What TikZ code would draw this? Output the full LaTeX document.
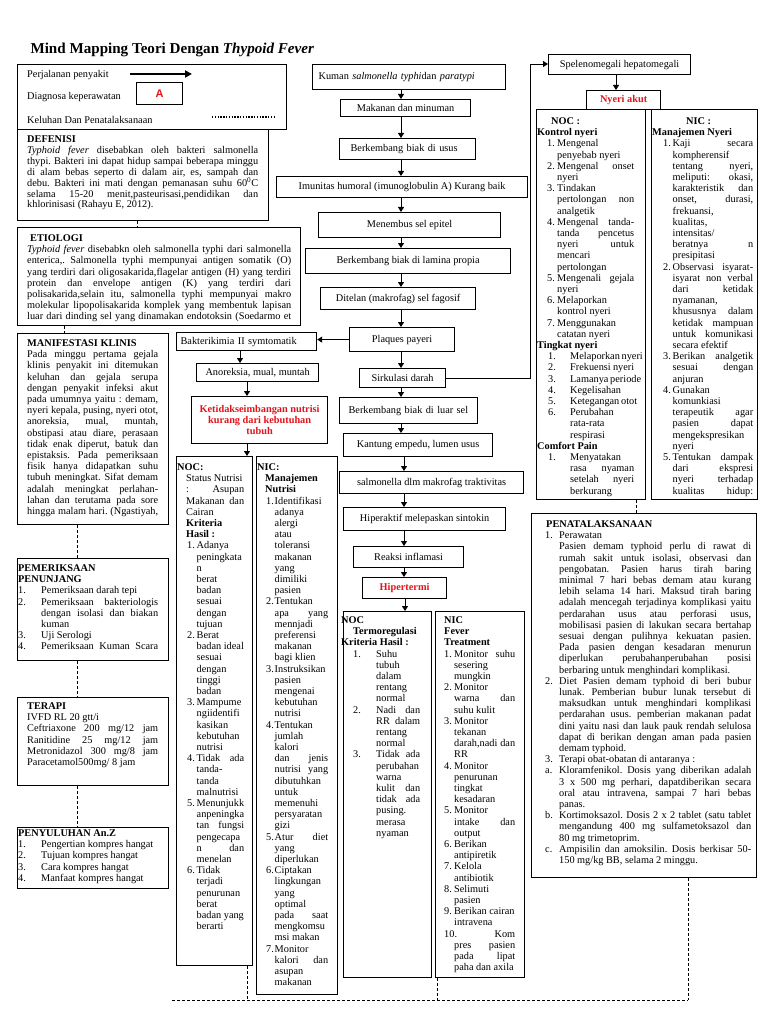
\documentclass[tikz,border=0pt]{standalone}
\usepackage{fontspec}
\setmainfont{Liberation Serif}
\newfontfamily\legendsans{Liberation Sans}
\usetikzlibrary{arrows.meta}
\definecolor{DiagRed}{HTML}{E2141B}
\frenchspacing
\newcommand\fs{\fontsize{10.3pt}{11.2pt}\selectfont}
\newlength\numin
\newlength\numwd
\newcommand\textcol[2]{\vbox{\hsize=#1\linewidth=\hsize\parindent=0pt #2}}
\newcommand\jst[2][0pt]{\hbox to\linewidth{\hskip#1\relax#2}}
\newcommand\lft[2][0pt]{\hbox to\linewidth{\hskip#1\relax#2\hfil}}
\newcommand\NumL[2]{\lft[\numin]{\makebox[\numwd][l]{#1}#2}}
\newcommand\NumJ[2]{\jst[\numin]{\makebox[\numwd][l]{#1}#2}}
\newcommand\ContL[1]{\lft[\dimexpr\numin+\numwd\relax]{#1}}
\newcommand\ContJ[1]{\jst[\dimexpr\numin+\numwd\relax]{#1}}
\tikzset{
  frame/.style={draw,line width=1.2pt,inner sep=0pt,anchor=north west},
  cbox/.style={frame,font=\fs},
  lbox/.style={frame,font=\fs,align=left},
  diag/.style={frame,font=\fs\bfseries,text=DiagRed},
  txt/.style={font=\fs,inner sep=0pt,anchor=north west},
  arr/.style={-{Triangle[length=5pt,width=6pt]},line width=1pt},
  thinarr/.style={-{Triangle[length=5pt,width=6pt]},line width=0.8pt},
  dlink/.style={dash pattern=on 3pt off 2pt,line width=0.9pt},
}
\begin{document}
\begin{tikzpicture}[x=1pt,y=-1pt]
\path[fill=white,use as bounding box] (0,0) rectangle (768,1024);
\node[anchor=west,font=\fontsize{15.1pt}{16pt}\selectfont\bfseries] (title) at (27,50) {Mind Mapping Teori Dengan \textit{Thypoid Fever}};

\node[frame,minimum width=269pt,minimum height=65pt] (legend) at (17,64) {};
\node[anchor=west,font=\fs,inner sep=0pt] (lg1) at (27,75) {Perjalanan penyakit};
\node[anchor=west,font=\fs,inner sep=0pt] (lg2) at (27,97) {Diagnosa keperawatan};
\node[anchor=west,font=\fs,inner sep=0pt] (lg3) at (27,120) {Keluhan Dan Penatalaksanaan};
\coordinate (la) at (130,74);
\coordinate (lb) at (192,74);
\draw[-{Triangle[length=7pt,width=7pt]},line width=2.2pt] (la) -- (lb);
\node[frame,minimum width=46pt,minimum height=22pt,font=\legendsans\bfseries\fontsize{11pt}{12pt}\selectfont,text=DiagRed] (boxA) at (136,82) {A};
\coordinate (ld) at (212,117);
\coordinate (le) at (276,117);
\draw[line width=1.3pt,dash pattern=on 1.4pt off 1.4pt] (ld) -- (le);

\node[frame,minimum width=251pt,minimum height=91pt] (defn) at (17,129) {};
\node[txt] (defntxt) at (27,135.5) {\fontsize{10.3pt}{10.9pt}\selectfont\textcol{231pt}{%
\lft{\textbf{DEFENISI}}
\jst{\textit{Typhoid fever} disebabkan oleh bakteri salmonella}
\jst{thypi. Bakteri ini dapat hidup sampai beberapa minggu}
\jst{di alam bebas seperto di dalam air, es, sampah dan}
\jst{debu. Bakteri ini mati dengan pemanasan suhu 60\textsuperscript{0}C}
\jst{selama 15-20 menit,pasteurisasi,pendidikan dan}
\lft{khlorinisasi (Rahayu E, 2012).}}};

\node[frame,minimum width=283pt,minimum height=98pt] (etio) at (17,227) {};
\node[txt] (etiotxt) at (27,234.5) {\textcol{264pt}{%
\lft[3pt]{\textbf{ETIOLOGI}}
\jst{\textit{Typhoid fever} disebabkn oleh salmonella typhi dari salmonella}
\jst{enterica,. Salmonella typhi mempunyai antigen somatik (O)}
\jst{yang terdiri dari oligosakarida,flagelar antigen (H) yang terdiri}
\jst{protein dan envelope antigen (K) yang terdiri dari}
\jst{polisakarida,selain itu, salmonella typhi mempunyai makro}
\jst{molekular lipopolisakarida komplek yang membentuk lapisan}
\jst{luar dari dinding sel yang dinamakan endotoksin (Soedarmo et}}};

\node[frame,minimum width=151pt,minimum height=191pt] (manif) at (17,333) {};
\node[txt] (maniftxt) at (27,339.5) {\textcol{131pt}{%
\lft{\textbf{MANIFESTASI KLINIS}}
\jst{Pada minggu pertama gejala}
\jst{klinis penyakit ini ditemukan}
\jst{keluhan dan gejala serupa}
\jst{dengan penyakit infeksi akut}
\jst{pada umumnya yaitu : demam,}
\jst{nyeri kepala, pusing, nyeri otot,}
\jst{anoreksia, mual, muntah,}
\jst{obstipasi atau diare, perasaan}
\jst{tidak enak diperut, batuk dan}
\jst{epistaksis. Pada pemeriksaan}
\jst{fisik hanya didapatkan suhu}
\jst{tubuh meningkat. Sifat demam}
\jst{adalah meningkat perlahan-}
\jst{lahan dan terutama pada sore}
\jst{hingga malam hari. (Ngastiyah,}}};

\node[frame,minimum width=151pt,minimum height=102pt] (pemer) at (17,558) {};
\node[txt] (pemertxt) at (18,564.5) {\textcol{140pt}{\setlength\numin{0pt}\setlength\numwd{23pt}%
\lft{\textbf{PEMERIKSAAN}}
\lft{\textbf{PENUNJANG}}
\NumL{1.}{Pemeriksaan darah tepi}
\NumJ{2.}{Pemeriksaan bakteriologis}
\ContJ{dengan isolasi dan biakan}
\ContL{kuman}
\NumL{3.}{Uji Serologi}
\NumJ{4.}{Pemeriksaan Kuman Scara}}};

\node[frame,minimum width=151pt,minimum height=88pt] (terapi) at (17,697) {};
\node[txt] (terapitxt) at (27,702.5) {\textcol{131pt}{%
\lft{\textbf{TERAPI}}
\lft{IVFD RL 20 gtt/i}
\jst{Ceftriaxone 200 mg/12 jam}
\jst{Ranitidine 25 mg/12 jam}
\jst{Metronidazol 300 mg/8 jam}
\lft{Paracetamol500mg/ 8 jam}}};

\node[frame,minimum width=151pt,minimum height=61pt] (penyul) at (17,827) {};
\node[txt] (penyultxt) at (18,829.5) {\textcol{140pt}{\setlength\numin{0pt}\setlength\numwd{23pt}%
\lft{\textbf{PENYULUHAN An.Z}}
\NumL{1.}{Pengertian kompres hangat}
\NumL{2.}{Tujuan kompres hangat}
\NumL{3.}{Cara kompres hangat}
\NumL{4.}{Manfaat kompres hangat}}};

\draw[dlink] (defn.south -| 137,0) -- (etio.north -| 137,0);
\draw[dlink] (etio.south -| 64,0) -- (manif.north -| 64,0);
\draw[dlink] (manif.south -| 77,0) -- (pemer.north -| 77,0);
\draw[dlink] (pemer.south -| 77,0) -- (terapi.north -| 77,0);
\draw[dlink] (terapi.south -| 77,0) -- (penyul.north -| 77,0);

\node[lbox,text width=181pt,inner xsep=6pt,minimum height=25pt] (kuman) at (312,64) {Kuman \textit{salmonella typhi}dan \textit{paratypi}};
\node[cbox,minimum width=130pt,minimum height=17pt] (makan) at (340,99) {Makanan dan minuman};
\node[lbox,text width=114pt,inner xsep=11pt,minimum height=21pt] (usus) at (339,138) {Berkembang biak di usus};
\node[cbox,minimum width=251pt,minimum height=21pt] (imun) at (276,176) {Imunitas humoral (imunoglobulin A) Kurang baik};
\node[cbox,minimum width=182pt,minimum height=25pt] (epitel) at (318,212) {Menembus sel epitel};
\node[cbox,minimum width=205pt,minimum height=25pt] (lamina) at (305,248) {Berkembang biak di lamina propia};
\node[cbox,minimum width=155pt,minimum height=22pt] (ditelan) at (320,287) {Ditelan (makrofag) sel fagosif};
\node[cbox,minimum width=105pt,minimum height=24pt] (plaques) at (349,327) {Plaques payeri};
\node[cbox,minimum width=86pt,minimum height=19pt] (sirkul) at (359,368) {Sirkulasi darah};
\node[lbox,text width=120pt,inner xsep=9pt,minimum height=26pt] (luarsel) at (339,397) {Berkembang biak di luar sel};
\node[cbox,minimum width=149pt,minimum height=23pt] (empedu) at (343,433) {Kantung empedu, lumen usus};
\node[cbox,minimum width=184pt,minimum height=22pt] (makro) at (339,471) {salmonella dlm makrofag traktivitas};
\node[cbox,minimum width=162pt,minimum height=23pt] (sintokin) at (343,507) {Hiperaktif melepaskan sintokin};
\node[cbox,minimum width=110pt,minimum height=21pt] (inflam) at (353,546) {Reaksi inflamasi};
\node[diag,minimum width=84pt,minimum height=21pt] (hiper) at (362,577) {Hipertermi};

\coordinate (spine) at (401,0);
\coordinate (spineb) at (404,0);
\draw[arr] (kuman.south -| spine) -- (makan.north -| spine);
\draw[arr] (makan.south -| spine) -- (usus.north -| spine);
\draw[arr] (usus.south -| spine) -- (imun.north -| spine);
\draw[arr] (imun.south -| spine) -- (epitel.north -| spine);
\draw[arr] (epitel.south -| spine) -- (lamina.north -| spine);
\draw[arr] (lamina.south -| spine) -- (ditelan.north -| spine);
\draw[arr] (ditelan.south -| spine) -- (plaques.north -| spine);
\draw[arr] (plaques.south -| spine) -- (sirkul.north -| spine);
\draw[arr] (sirkul.south -| spine) -- (luarsel.north -| spine);
\draw[arr] (luarsel.south -| spine) -- (empedu.north -| spine);
\draw[arr] (empedu.south -| spineb) -- (makro.north -| spineb);
\draw[arr] (makro.south -| spineb) -- (sintokin.north -| spineb);
\draw[arr] (sintokin.south -| spineb) -- (inflam.north -| spineb);
\draw[arr] (inflam.south -| spineb) -- (hiper.north -| spineb);

\node[lbox,text width=132pt,inner xsep=4pt,minimum height=18pt] (bakteri) at (176,332) {Bakterikimia II symtomatik};
\node[cbox,minimum width=122pt,minimum height=18pt] (anor) at (196,363) {Anoreksia, mual, muntah};
\node[diag,minimum width=136pt,minimum height=47pt,align=center] (ketidak) at (191,396) {Ketidakseimbangan nutrisi\\kurang dari kebutuhan\\tubuh};
\draw[arr] (plaques.west) -- (plaques.west -| bakteri.east);
\draw[arr] (bakteri.south -| 240,0) -- (anor.north -| 240,0);
\draw[arr] (anor.south -| 247,0) -- (ketidak.north -| 247,0);

\node[frame,minimum width=76pt,minimum height=509pt] (nocnut) at (176,456) {};
\node[frame,minimum width=81pt,minimum height=538pt] (nicnut) at (256,456) {};
\draw[arr] (ketidak.south -| 247,0) -- (nocnut.north -| 247,0);
\node[txt] (nocnuttxt) at (177,463.5) {\textcol{67pt}{\setlength\numin{10pt}\setlength\numwd{9.5pt}%
\lft{\textbf{NOC:}}
\lft[9pt]{Status Nutrisi}
\jst[9pt]{: Asupan}
\jst[9pt]{Makanan dan}
\lft[9pt]{Cairan}
\lft[9pt]{\textbf{Kriteria}}
\lft[9pt]{\textbf{Hasil :}}
\NumL{1.}{Adanya}
\ContL{peningkata}
\ContL{n}
\ContL{berat}
\ContL{badan}
\ContL{sesuai}
\ContL{dengan}
\ContL{tujuan}
\NumL{2.}{Berat}
\ContL{badan ideal}
\ContL{sesuai}
\ContL{dengan}
\ContL{tinggi}
\ContL{badan}
\NumL{3.}{Mampume}
\ContL{ngiidentifi}
\ContL{kasikan}
\ContL{kebutuhan}
\ContL{nutrisi}
\NumJ{4.}{Tidak ada}
\ContL{tanda-}
\ContL{tanda}
\ContL{malnutrisi}
\NumL{5.}{Menunjukk}
\ContL{anpeningka}
\ContJ{tan fungsi}
\ContL{pengecapa}
\ContJ{n dan}
\ContL{menelan}
\NumL{6.}{Tidak}
\ContL{terjadi}
\ContL{penurunan}
\ContL{berat}
\ContL{badan yang}
\ContL{berarti}}};
\node[txt] (nicnuttxt) at (257,463.5) {\textcol{71pt}{\setlength\numin{9pt}\setlength\numwd{8.5pt}%
\lft{\textbf{NIC:}}
\lft[8pt]{\textbf{Manajemen}}
\lft[8pt]{\textbf{Nutrisi}}
\NumL{1.}{Identifikasi}
\ContL{adanya}
\ContL{alergi}
\ContL{atau}
\ContL{toleransi}
\ContL{makanan}
\ContL{yang}
\ContL{dimiliki}
\ContL{pasien}
\NumL{2.}{Tentukan}
\ContJ{apa yang}
\ContL{mennjadi}
\ContL{preferensi}
\ContL{makanan}
\ContL{bagi klien}
\NumL{3.}{Instruksikan}
\ContL{pasien}
\ContL{mengenai}
\ContL{kebutuhan}
\ContL{nutrisi}
\NumL{4.}{Tentukan}
\ContL{jumlah}
\ContL{kalori}
\ContJ{dan jenis}
\ContJ{nutrisi yang}
\ContL{dibutuhkan}
\ContL{untuk}
\ContL{memenuhi}
\ContL{persyaratan}
\ContL{gizi}
\NumJ{5.}{Atur diet}
\ContL{yang}
\ContL{diperlukan}
\NumL{6.}{Ciptakan}
\ContL{lingkungan}
\ContL{yang}
\ContL{optimal}
\ContJ{pada saat}
\ContL{mengkomsu}
\ContL{msi makan}
\NumL{7.}{Monitor}
\ContJ{kalori dan}
\ContL{asupan}
\ContL{makanan}}};

\node[frame,minimum width=88pt,minimum height=366pt] (noctermo) at (343,611) {};
\node[frame,minimum width=89pt,minimum height=366pt] (nicfever) at (435,611) {};
\draw[arr] (hiper.south -| 405,0) -- (noctermo.north -| 405,0);
\node[txt] (noctermotxt) at (341,616.5) {\textcol{79pt}{\setlength\numin{12pt}\setlength\numwd{23pt}%
\lft{\textbf{NOC}}
\lft[12pt]{\textbf{Termoregulasi}}
\lft{\textbf{Kriteria Hasil :}}
\NumL{1.}{Suhu}
\ContL{tubuh}
\ContL{dalam}
\ContL{rentang}
\ContL{normal}
\NumJ{2.}{Nadi dan}
\ContJ{RR dalam}
\ContL{rentang}
\ContL{normal}
\NumJ{3.}{Tidak ada}
\ContL{perubahan}
\ContL{warna}
\ContJ{kulit dan}
\ContJ{tidak ada}
\ContL{pusing.}
\ContL{merasa}
\ContL{nyaman}}};
\node[txt] (nicfevertxt) at (444,616.5) {\textcol{71pt}{\setlength\numin{0pt}\setlength\numwd{10pt}%
\lft{\textbf{NIC}}
\lft{\textbf{Fever}}
\lft{\textbf{Treatment}}
\NumJ{1.}{Monitor suhu}
\ContL{sesering}
\ContL{mungkin}
\NumL{2.}{Monitor}
\ContJ{warna dan}
\ContL{suhu kulit}
\NumL{3.}{Monitor}
\ContL{tekanan}
\ContJ{darah,nadi dan}
\ContL{RR}
\NumL{4.}{Monitor}
\ContL{penurunan}
\ContL{tingkat}
\ContL{kesadaran}
\NumL{5.}{Monitor}
\ContJ{intake dan}
\ContL{output}
\NumL{6.}{Berikan}
\ContL{antipiretik}
\NumL{7.}{Kelola}
\ContL{antibiotik}
\NumL{8.}{Selimuti}
\ContL{pasien}
\NumL{9.}{Berikan cairan}
\ContL{intravena}
\jst{10. Kom}
\ContJ{pres pasien}
\ContJ{pada lipat}
\ContL{paha dan axila}}};

\node[cbox,minimum width=142pt,minimum height=20pt] (speleno) at (548,54) {Spelenomegali hepatomegali};
\node[diag,minimum width=74pt,minimum height=19pt] (nyeri) at (586,90) {Nyeri akut};
\coordinate (turn) at (530,64);
\draw[thinarr] (sirkul.east) -| (turn) -- (turn -| speleno.west);
\draw[arr] (speleno.south -| 616,0) -- (nyeri.north -| 616,0);

\node[frame,minimum width=109pt,minimum height=390pt] (nocnyeri) at (536,109) {};
\node[frame,minimum width=106pt,minimum height=390pt] (nicnyeri) at (651,109) {};
\node[txt] (nocnyeritxt) at (537,117.5) {\textcol{97pt}{\setlength\numin{10pt}\setlength\numwd{10pt}%
\lft[14pt]{\textbf{NOC :}}
\lft{\textbf{Kontrol nyeri}}
\NumL{1.}{Mengenal}
\ContL{penyebab nyeri}
\NumJ{2.}{Mengenal onset}
\ContL{nyeri}
\NumL{3.}{Tindakan}
\ContJ{pertolongan non}
\ContL{analgetik}
\NumJ{4.}{Mengenal tanda-}
\ContJ{tanda pencetus}
\ContJ{nyeri untuk}
\ContL{mencari}
\ContL{pertolongan}
\NumJ{5.}{Mengenali gejala}
\ContL{nyeri}
\NumL{6.}{Melaporkan}
\ContL{kontrol nyeri}
\NumL{7.}{Menggunakan}
\ContL{catatan nyeri}
\lft{\textbf{Tingkat nyeri}}
\setlength\numin{11pt}\setlength\numwd{22pt}%
\NumL{1.}{Melaporkan nyeri}
\NumL{2.}{Frekuensi nyeri}
\NumL{3.}{Lamanya periode}
\NumL{4.}{Kegelisahan}
\NumL{5.}{Ketegangan otot}
\NumL{6.}{Perubahan}
\ContL{rata-rata}
\ContL{respirasi}
\lft{\textbf{Comfort Pain}}
\NumL{1.}{Menyatakan}
\ContJ{rasa nyaman}
\ContJ{setelah nyeri}
\ContL{berkurang}}};
\node[txt] (nicnyeritxt) at (652,117.5) {\textcol{101pt}{\setlength\numin{11pt}\setlength\numwd{9.5pt}%
\lft[34pt]{\textbf{NIC :}}
\lft{\textbf{Manajemen Nyeri}}
\NumJ{1.}{Kaji secara}
\ContL{kompherensif}
\ContJ{tentang nyeri,}
\ContJ{meliputi: okasi,}
\ContJ{karakteristik dan}
\ContJ{onset, durasi,}
\ContL{frekuansi,}
\ContL{kualitas,}
\ContL{intensitas/}
\ContJ{beratnya n}
\ContL{presipitasi}
\NumJ{2.}{Observasi isyarat-}
\ContJ{isyarat non verbal}
\ContJ{dari ketidak}
\ContL{nyamanan,}
\ContJ{khususnya dalam}
\ContJ{ketidak mampuan}
\ContJ{untuk komunikasi}
\ContL{secara efektif}
\NumJ{3.}{Berikan analgetik}
\ContJ{sesuai dengan}
\ContL{anjuran}
\NumL{4.}{Gunakan}
\ContL{komunkiasi}
\ContJ{terapeutik agar}
\ContJ{pasien dapat}
\ContL{mengekspresikan}
\ContL{nyeri}
\NumJ{5.}{Tentukan dampak}
\ContJ{dari ekspresi}
\ContJ{nyeri terhadap}
\ContJ{kualitas hidup:}}};

\node[frame,minimum width=225pt,minimum height=364pt] (penata) at (531,513) {};
\draw[dlink] (nocnyeri.south -| 636,0) -- (penata.north -| 636,0);
\node[txt] (penatatxt) at (545,520.5) {\textcol{206pt}{\setlength\numin{0pt}\setlength\numwd{14pt}%
\lft[1pt]{\textbf{PENATALAKSANAAN}}
\NumL{1.}{Perawatan}
\ContJ{Pasien demam typhoid perlu di rawat di}
\ContJ{rumah sakit untuk isolasi, observasi dan}
\ContJ{pengobatan. Pasien harus tirah baring}
\ContJ{minimal 7 hari bebas demam atau kurang}
\ContJ{lebih selama 14 hari. Maksud tirah baring}
\ContJ{adalah mencegah terjadinya komplikasi yaitu}
\ContJ{perdarahan usus atau perforasi usus,}
\ContJ{mobilisasi pasien di lakukan secara bertahap}
\ContJ{sesuai dengan pulihnya kekuatan pasien.}
\ContJ{Pada pasien dengan kesadaran menurun}
\ContJ{diperlukan perubahanperubahan posisi}
\ContL{berbaring untuk menghindari komplikasi.}
\NumJ{2.}{Diet Pasien demam typhoid di beri bubur}
\ContJ{lunak. Pemberian bubur lunak tersebut di}
\ContJ{maksudkan untuk menghindari komplikasi}
\ContJ{perdarahan usus. pemberian makanan padat}
\ContJ{dini yaitu nasi dan lauk pauk rendah selulosa}
\ContJ{dapat di berikan dengan aman pada pasien}
\ContL{demam typhoid.}
\NumL{3.}{Terapi obat-obatan di antaranya :}
\NumJ{a.}{Kloramfenikol. Dosis yang diberikan adalah}
\ContJ{3 x 500 mg perhari, dapatdiberikan secara}
\ContJ{oral atau intravena, sampai 7 hari bebas}
\ContL{panas.}
\NumJ{b.}{Kortimoksazol. Dosis 2 x 2 tablet (satu tablet}
\ContJ{mengandung 400 mg sulfametoksazol dan}
\ContL{80 mg trimetoprim.}
\NumJ{c.}{Ampisilin dan amoksilin. Dosis berkisar 50-}
\ContL{150 mg/kg BB, selama 2 minggu.}}};

\coordinate (bl) at (172,1000);
\coordinate (br) at (688,1000);
\draw[dlink] (bl) -- (br);
\draw[dlink] (nocnut.south -| 247,0) -- (bl -| 247,0);
\draw[dlink] (nicfever.south -| 437,0) -- (bl -| 437,0);
\draw[dlink] (penata.south -| br) -- (br);
\end{tikzpicture}
\end{document}
